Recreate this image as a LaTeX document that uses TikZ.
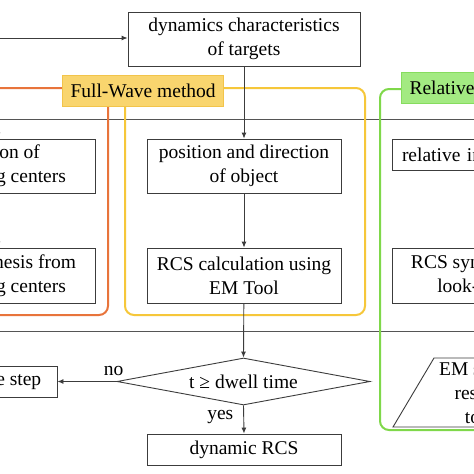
\documentclass[tikz,border=0pt]{standalone}
\usepackage{fontspec}
\setmainfont{Liberation Serif}
\usetikzlibrary{arrows.meta,shapes.geometric}
\definecolor{boxgray}{HTML}{3C3C3C}
\definecolor{sepgray}{HTML}{555555}
\definecolor{orangeln}{HTML}{E8743B}
\definecolor{yellowln}{HTML}{F6C73A}
\definecolor{greenln}{HTML}{7FD84A}
\definecolor{fwfill}{HTML}{F9D56E}
\definecolor{fwdraw}{HTML}{F2C44A}
\definecolor{relfill}{HTML}{A3EA82}
\definecolor{reldraw}{HTML}{86DC5E}
\newcommand{\fs}{\fontsize{19.5}{24}\selectfont}
\tikzset{
  box/.style={draw=boxgray, line width=0.9pt, fill=white, inner sep=0pt, align=center, font=\fs},
  arr/.style={draw=boxgray, line width=0.9pt, -{Latex[length=6pt,width=5pt]}},
  sep/.style={draw=sepgray, line width=1pt},
  grp/.style={line width=2pt, rounded corners=9pt},
  lbl/.style={font=\fs, inner sep=0pt},
  tag/.style={font=\fs, inner xsep=8pt, inner ysep=0pt, minimum height=31pt, line width=1pt}
}
\begin{document}
\begin{tikzpicture}[x=1pt,y=-1pt]
\useasboundingbox (0,0) rectangle (474,474);
\clip (0,0) rectangle (474,474);
\fill[white] (0,0) rectangle (474,474);
% separators
\draw[sep] (-5,119) -- (480,119);
\draw[sep] (-5,331) -- (480,331);
% group frames
\draw[grp, orangeln] (-120,88) rectangle (108,315);
\draw[grp, yellowln] (125,88) rectangle (365,315);
\draw[grp, greenln] (380,89) rectangle (600,430);
% group labels
\node[tag, fill=fwfill, draw=fwdraw, anchor=west] (fw) at (62,90.5) {Full-Wave method};
\node[tag, fill=relfill, draw=reldraw, anchor=west] (rel) at (401,87.5) {Relative motion method};
% boxes
\node[box, minimum width=232pt, minimum height=54pt] (top) at (244,39) {dynamics characteristics\\of targets};
\node[box, minimum width=194pt, minimum height=54pt] (pos) at (244,166) {position and direction\\of object};
\node[box, minimum width=194pt, minimum height=55pt] (rcs) at (244,275.5) {RCS calculation using\\EM Tool};
\node[box, minimum width=194pt, minimum height=31pt] (dyn) at (244,449.5) {dynamic RCS};
\node[box, minimum width=194pt, minimum height=54pt] (left1) at (-2,166) {location of\\scattering centers};
\node[box, minimum width=194pt, minimum height=55pt] (left2) at (-2,275.5) {RCS synthesis from\\scattering centers};
\node[box, minimum width=141pt, minimum height=31pt] (next) at (-13.5,381.5) {next time step};
\node[box, minimum width=194pt, minimum height=31pt, text width=174pt, align=left] (relinfo) at (489,154.5) {relative information};
\node[box, minimum width=194pt, minimum height=55pt] (rcssym) at (489,275.5) {RCS synthesis from\\look-up table};
\node[box, shape=diamond, aspect=5.4, minimum width=253pt, minimum height=47pt] (dia) at (243.5,381.5) {t ≥ dwell time};
% parallelogram
\coordinate (pTL) at (434,358);
\coordinate (pBL) at (393,427);
\coordinate (pBR) at (560,427);
\coordinate (pTR) at (601,358);
\draw[boxgray, line width=0.9pt, fill=white] (pTL) -- (pTR) -- (pBR) -- (pBL) -- cycle;
\node[lbl, align=center, font=\fs] (em) at (480,393) {EM solver\\results\\tool};
% connectors
\coordinate (inL) at (-10,38);
\coordinate (inA) at (-2,100);
\draw[arr] (inL) -- (top.west |- inL);
\draw[arr] (top.south) -- (pos.north);
\draw[arr] (pos) -- (rcs);
\draw[arr] (rcs) -- (dia.north);
\draw[arr] (dia.south) -- node[lbl, pos=0.42, left=10pt] (yes) {yes} (dyn.north);
\draw[arr] (dia.west) -- node[lbl, pos=0.05, above=5pt] (no) {no} (next.east);
\draw[arr] (inA) -- (left1.north);
\draw[arr] (left1) -- (left2);
\end{tikzpicture}
\end{document}
